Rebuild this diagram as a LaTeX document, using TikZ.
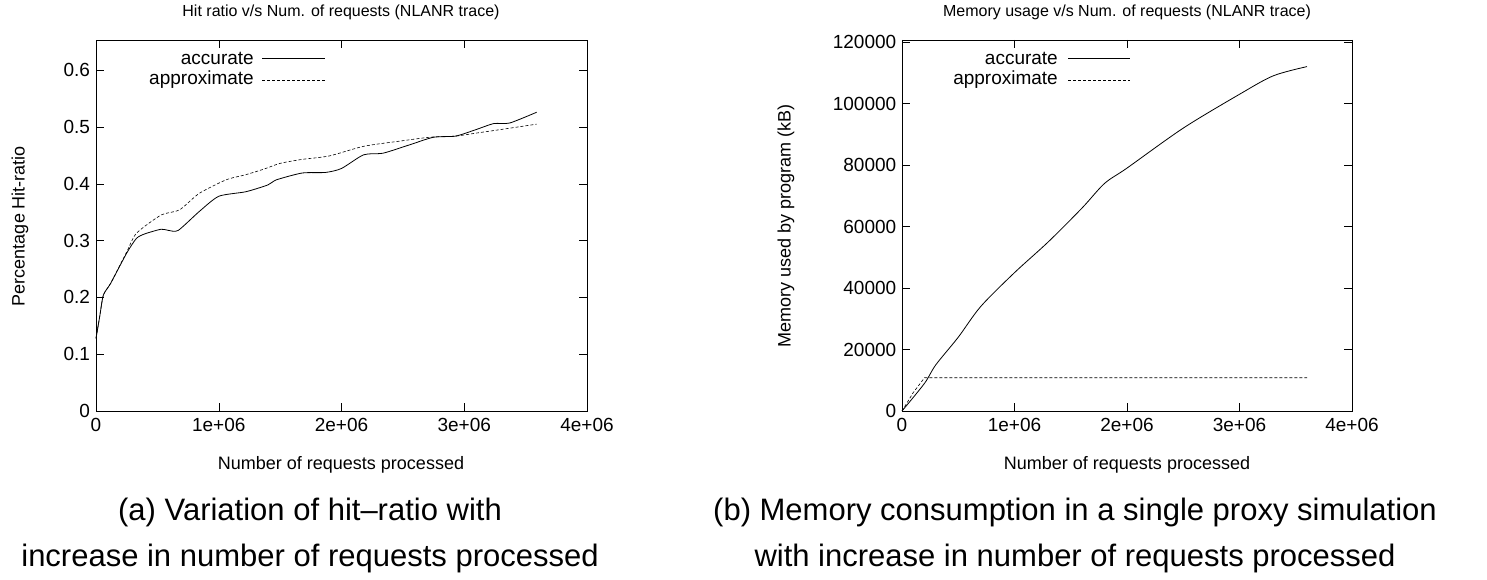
\documentclass[tikz,border=0pt]{standalone}
\usepackage{fontspec}
\setmainfont{Liberation Sans}
\begin{document}
\begin{tikzpicture}[x=1pt, y=-1pt,
    tick/.style={font=\fontsize{19}{21}\selectfont},
    ttl/.style={font=\fontsize{16}{18}\selectfont},
    axlab/.style={font=\fontsize{18}{20}\selectfont},
    capt/.style={font=\fontsize{31}{46}\selectfont, align=center},
    acc/.style={line width=.8pt},
    apx/.style={line width=.6pt, dash pattern=on 3pt off 2pt}]

        \useasboundingbox (0,0) rectangle (1487,580);

        % left panel
        \node [ttl] (ttla) at (341,12) {Hit ratio v/s Num. of requests (NLANR trace)};
        \begin{scope}[shift={(96,411)}, x=122.75pt, y=568pt]
          \draw [line width=.6pt] (0,0) rectangle (4,0.653);
          \foreach \y in {0,0.1,0.2,0.3,0.4,0.5,0.6} {
            \draw (0,\y) -- (0.065,\y);
            \draw (4,\y) -- (3.935,\y);
            \node [tick, left] at (-0.02,\y) {\y};
          }
          \foreach \x/\t in {0/0,1/1e+06,2/2e+06,3/3e+06,4/4e+06} {
            \draw (\x,0) -- (\x,0.014);
            \draw (\x,0.653) -- (\x,0.639);
            \node [tick, below] at (\x,-0.006) {\t};
          }
          \draw [acc] plot [smooth, tension=.4] coordinates {(0,0.128) (0.03,0.166) (0.06,0.204) (0.12,0.225) (0.25,0.278) (0.33,0.304) (0.4,0.312) (0.53,0.32) (0.59,0.318) (0.67,0.318) (0.84,0.351) (1.0,0.378) (1.22,0.386) (1.4,0.398) (1.47,0.407) (1.68,0.419) (1.87,0.42) (2.0,0.427) (2.18,0.451) (2.34,0.454) (2.56,0.469) (2.75,0.482) (2.93,0.484) (3.09,0.495) (3.24,0.506) (3.37,0.507) (3.59,0.526)};
          \draw [apx] plot [smooth, tension=.4] coordinates {(0,0.128) (0.03,0.166) (0.06,0.204) (0.12,0.225) (0.25,0.28) (0.33,0.313) (0.53,0.345) (0.68,0.354) (0.84,0.383) (1.06,0.407) (1.22,0.416) (1.37,0.426) (1.5,0.436) (1.68,0.443) (1.9,0.449) (2.18,0.466) (2.47,0.475) (2.72,0.482) (2.93,0.484) (3.12,0.49) (3.28,0.495) (3.59,0.505)};
        \end{scope}
        \node [tick, left, inner sep=0pt] (acca) at (254,58) {accurate};
        \node [tick, left, inner sep=0pt] (apxa) at (254,80) {approximate};
        \draw [acc] (262,58) -- (325,58);
        \draw [apx] (262,80) -- (325,80);
        \node [axlab] (xlaba) at (341,465) {Number of requests processed};
        \node [axlab, rotate=90] (ylaba) at (20,226) {Percentage Hit-ratio};
        \node [capt] (capa) at (310,535) {(a) Variation of hit--ratio with\\increase in number of requests processed};

        % right panel (memory in thousands of kB)
        \node [ttl] (ttlb) at (1127,12) {Memory usage v/s Num. of requests (NLANR trace)};
        \begin{scope}[shift={(902,411)}, x=112.5pt, y=3.075pt]
          \draw [line width=.6pt] (0,0) rectangle (4,120.65);
          \foreach \y/\t in {0/0,20/20000,40/40000,60/60000,80/80000,100/100000,120/120000} {
            \draw (0,\y) -- (0.07,\y);
            \draw (4,\y) -- (3.93,\y);
            \node [tick, left] at (-0.02,\y) {\t};
          }
          \foreach \x/\t in {0/0,1/1e+06,2/2e+06,3/3e+06,4/4e+06} {
            \draw (\x,0) -- (\x,2.6);
            \draw (\x,120.65) -- (\x,118.05);
            \node [tick, below] at (\x,-1.1) {\t};
          }
          \draw [acc] plot [smooth, tension=.5] coordinates {(0,0) (0.2,9) (0.3,15) (0.5,24) (0.7,34) (1.0,45) (1.3,55) (1.6,66) (1.8,74) (2.0,79) (2.5,92) (3.0,103) (3.3,109) (3.6,112)};
          \draw [apx] (0,0) -- (0.1,6) -- (0.2,10.8) -- (3.6,10.8);
        \end{scope}
        \node [tick, left, inner sep=0pt] (accb) at (1058,58) {accurate};
        \node [tick, left, inner sep=0pt] (apxb) at (1058,80) {approximate};
        \draw [acc] (1068,58) -- (1130,58);
        \draw [apx] (1068,80) -- (1130,80);
        \node [axlab] (xlabb) at (1127,465) {Number of requests processed};
        \node [axlab, rotate=90] (ylabb) at (786,226) {Memory used by program (kB)};
        \node [capt] (capb) at (1075,535) {(b) Memory consumption in a single proxy simulation\\with increase in number of requests processed};
\end{tikzpicture}
\end{document}
